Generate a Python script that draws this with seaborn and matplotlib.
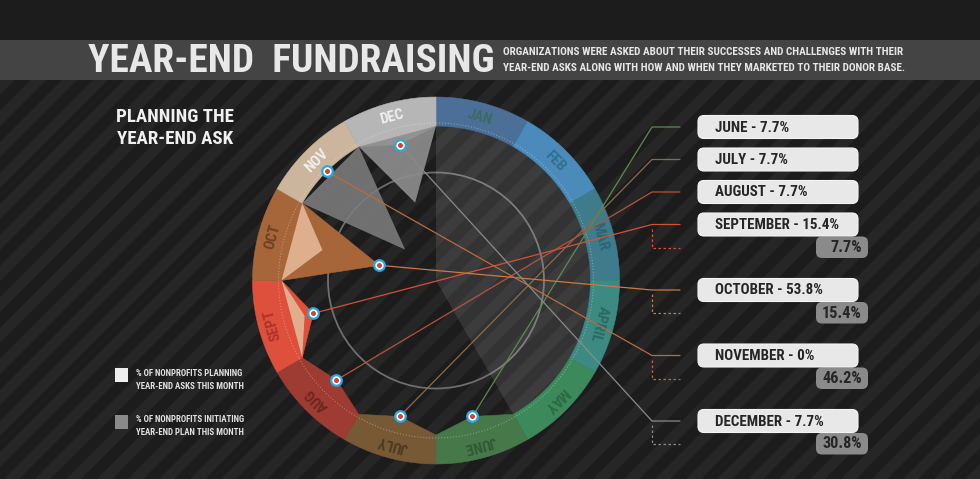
import numpy as np
import pandas as pd
import matplotlib
matplotlib.use("Agg")
import matplotlib.pyplot as plt
from matplotlib.patches import Polygon, Rectangle, FancyBboxPatch, Circle
from matplotlib.collections import PolyCollection
from matplotlib import font_manager
import seaborn as sns

# ---- data ----
months = ["JAN", "FEB", "MAR", "APRIL", "MAY", "JUNE", "JULY", "AUG", "SEPT", "OCT", "NOV", "DEC"]
monthFullNames = ["JANUARY", "FEBRUARY", "MARCH", "APRIL", "MAY", "JUNE", "JULY",
                  "AUGUST", "SEPTEMBER", "OCTOBER", "NOVEMBER", "DECEMBER"]
planningPct = [np.nan, np.nan, np.nan, np.nan, np.nan, 7.7, 7.7, 7.7, 15.4, 53.8, 0.0, 7.7]
initiatingPct = [np.nan, np.nan, np.nan, np.nan, np.nan, np.nan, np.nan, np.nan, 7.7, 15.4, 46.2, 30.8]

titleText = "YEAR-END  FUNDRAISING"
subtitleLines = ["ORGANIZATIONS WERE ASKED ABOUT THEIR SUCCESSES AND CHALLENGES WITH THEIR",
                 "YEAR-END ASKS ALONG WITH HOW AND WHEN THEY MARKETED TO THEIR DONOR BASE."]
sectionTitle = "PLANNING THE\nYEAR-END ASK"
legendLabels = ["% OF NONPROFITS PLANNING\nYEAR-END ASKS THIS MONTH",
                "% OF NONPROFITS INITIATING\nYEAR-END PLAN THIS MONTH"]

# ---- style ----
bandColors = ["#4b6f96", "#4a8bbb", "#3e7c8b", "#3d8a82", "#3c8a5c", "#46784a",
              "#775a35", "#9e3b33", "#de4f3c", "#a6663a", "#cbb59c", "#b6b6b6"]
bandLabelColors = ["#3a6b5e", "#33708f", "#2d6470", "#2b6a60", "#2b6a45", "#2f5a35",
                   "#4d3822", "#6e2620", "#a83528", "#6e4024", "#efefef", "#efefef"]
initiatingShades = {"SEPT": ("#e2b492", 0.95), "OCT": ("#e2b492", 0.95),
                    "NOV": ("#7c7c7c", 0.88), "DEC": ("#8e8e8e", 0.9)}
connectorColors = {"JUNE": "#5d8a4e", "JULY": "#8b6b4a", "AUG": "#b3533f", "SEPT": "#d2503a",
                   "OCT": "#c97a45", "NOV": "#b86c3e", "DEC": "#8a8a8a"}

sns.set_theme(style="white")
fontNames = {f.name for f in font_manager.fontManager.ttflist}
condFont = "DejaVu Sans"
for cand in ["Liberation Sans Narrow", "Roboto Condensed", "Open Sans Condensed", "DejaVu Sans"]:
    if cand in fontNames:
        condFont = cand
        break
plt.rcParams["font.family"] = [condFont, "DejaVu Sans"]
plt.rcParams["font.weight"] = "bold"
plt.rcParams["font.stretch"] = "condensed"

CX, CY = 436.0, 280.5
R_OUT = 183.5
R_BASE = 154.5
R_GUIDE = 108
PLAN_SCALE = 1.78
INIT_SCALE = 2.4


def polarPoint(angleDeg, radius):
    rad = np.radians(angleDeg)
    return CX + radius * np.sin(rad), CY - radius * np.cos(rad)


fig = plt.figure(figsize=(9.8, 4.79), dpi=100, facecolor="#1c1c1c")
ax = fig.add_axes([0, 0, 1, 1])
ax.set_facecolor("#1c1c1c")
ax.set_xlim(0, 980)
ax.set_ylim(479, 0)
renderer = fig.canvas.get_renderer()


def fitSize(sample, targetWidth):
    # font size that makes the sample string about targetWidth pixels wide
    probe = ax.text(0, 0, sample, fontsize=10)
    width = probe.get_window_extent(renderer=renderer).width
    probe.remove()
    return 10 * targetWidth / width


titleSize = fitSize(titleText, 404)
subSize = fitSize(subtitleLines[0], 400)
sectionSize = fitSize("PLANNING THE", 116)
legendSize = fitSize("% OF NONPROFITS INITIATING", 110)
labelSize = fitSize("SEPTEMBER - 15.4%", 124)
valueSize = fitSize("46.2%", 40)
ringSize = fitSize("JAN", 25)

# background stripes
stripes = []
for c in range(-430, 990, 31):
    stripes.append([(c, 479), (c + 15, 479), (c + 15 + 399, 80), (c + 399, 80)])
ax.add_collection(PolyCollection(stripes, facecolors="#262626", edgecolors="none", zorder=1))

# title band
ax.add_patch(Rectangle((0, 40), 980, 40, facecolor="#444444", edgecolor="none", zorder=2))
ax.text(88, 61, titleText, fontsize=titleSize, color="#e8e8e8", va="center", ha="left", zorder=3)
ax.text(503, 52, subtitleLines[0], fontsize=subSize, color="#e6e6e6", va="center", ha="left", zorder=3)
ax.text(503, 68, subtitleLines[1], fontsize=subSize, color="#e6e6e6", va="center", ha="left", zorder=3)

ax.text(175, 128, sectionTitle, fontsize=sectionSize, color="#f0f0f0", ha="center", va="center",
        linespacing=1.3, zorder=3)

# legend
ax.add_patch(Rectangle((115, 368), 13, 14, facecolor="#eeeeee", edgecolor="none", zorder=3))
ax.add_patch(Rectangle((115, 415), 13, 14, facecolor="#8a8a8a", edgecolor="none", zorder=3))
ax.text(136, 380, legendLabels[0], fontsize=legendSize, color="#e0e0e0", va="center", linespacing=1.6, zorder=3)
ax.text(136, 426, legendLabels[1], fontsize=legendSize, color="#e0e0e0", va="center", linespacing=1.6, zorder=3)

# guide circle
ax.add_patch(Circle((CX, CY), R_GUIDE, fill=False, edgecolor="#6e6e6e", lw=1.3, zorder=2))

# no-data sector (months without values)
noDataIdx = [i for i, v in enumerate(planningPct) if np.isnan(v)]
secStart, secEnd = noDataIdx[0] * 30, (noDataIdx[-1] + 1) * 30
sectorPts = [(CX, CY)] + [polarPoint(a, R_BASE) for a in np.linspace(secStart, secEnd, 60)]
ax.add_patch(Polygon(sectorPts, closed=True, facecolor="white", alpha=0.1, edgecolor="none", zorder=3))

# month bands with planning spikes
for i, month in enumerate(months):
    a0, a1, mid = i * 30, i * 30 + 30, i * 30 + 15
    outer = [polarPoint(a, R_OUT) for a in np.linspace(a0, a1, 16)]
    p = 0.0 if np.isnan(planningPct[i]) else planningPct[i]
    if p > 0:
        inner = [polarPoint(a1, R_BASE), polarPoint(mid, R_BASE - PLAN_SCALE * p), polarPoint(a0, R_BASE)]
    else:
        inner = [polarPoint(a, R_BASE) for a in np.linspace(a1, a0, 16)]
    ax.add_patch(Polygon(outer + inner, closed=True, facecolor=bandColors[i],
                         edgecolor=bandColors[i], lw=0.4, zorder=4))
    lx, ly = polarPoint(mid, 169)
    ax.text(lx, ly, month, fontsize=ringSize, color=bandLabelColors[i], rotation=-mid,
            rotation_mode="anchor", ha="center", va="center", zorder=7)

# initiating spikes
for i, v in enumerate(initiatingPct):
    if np.isnan(v):
        continue
    a0, a1, mid = i * 30, i * 30 + 30, i * 30 + 15
    pts = [polarPoint(a0, R_BASE), polarPoint(mid, R_BASE - INIT_SCALE * v), polarPoint(a1, R_BASE)]
    shade, alpha = initiatingShades[months[i]]
    ax.add_patch(Polygon(pts, closed=True, facecolor=shade, edgecolor="none", alpha=alpha, zorder=5))

ax.add_patch(Circle((CX, CY), R_BASE + 3, fill=False, edgecolor="white", alpha=0.3,
                    lw=0.8, linestyle=":", zorder=6))

# connectors and labels on the right
labeledIdx = [i for i, v in enumerate(planningPct) if not np.isnan(v)]
markerRows = []
labelY = 127.0
for i in labeledIdx:
    mid = i * 30 + 15
    mx, my = polarPoint(mid, R_BASE - PLAN_SCALE * planningPct[i])
    markerRows.append({"month": months[i], "x": mx, "y": my})
    col = connectorColors[months[i]]
    ax.plot([mx, 652, 680], [my, labelY, labelY], color=col, lw=0.9, zorder=8)

    ax.add_patch(FancyBboxPatch((698, labelY - 11.5), 160, 23,
                                boxstyle="round,pad=0,rounding_size=6",
                                facecolor="#e8e8e8", edgecolor="#f4f4f4", lw=0.8, zorder=10))
    ax.text(715, labelY + 0.5, f"{monthFullNames[i]} - {planningPct[i]:g}%", fontsize=labelSize,
            color="#262626", ha="left", va="center", zorder=11)

    if not np.isnan(initiatingPct[i]):
        ax.plot([652, 652, 680], [labelY + 4, labelY + 23, labelY + 23], color=col, lw=0.9,
                linestyle=(0, (2, 2)), zorder=8)
        ax.add_patch(FancyBboxPatch((816, labelY + 12), 52, 21.5,
                                    boxstyle="round,pad=0,rounding_size=6",
                                    facecolor="#8a8a8a", edgecolor="none", zorder=9))
        ax.text(862, labelY + 23, f"{initiatingPct[i]:g}%", fontsize=valueSize, color="#262626",
                ha="right", va="center", zorder=11)
        labelY += 65.5
    else:
        labelY += 32.5

markerDf = pd.DataFrame(markerRows)
sns.scatterplot(data=markerDf, x="x", y="y", s=85, color="#29a9df", linewidth=0, ax=ax, zorder=12, legend=False)
sns.scatterplot(data=markerDf, x="x", y="y", s=36, color="white", linewidth=0, ax=ax, zorder=13, legend=False)
sns.scatterplot(data=markerDf, x="x", y="y", s=13, color="#d9402f", linewidth=0, ax=ax, zorder=14, legend=False)

ax.set_xlim(0, 980)
ax.set_ylim(479, 0)
ax.axis("off")

fig.savefig("out.png", dpi=100, facecolor=fig.get_facecolor())
